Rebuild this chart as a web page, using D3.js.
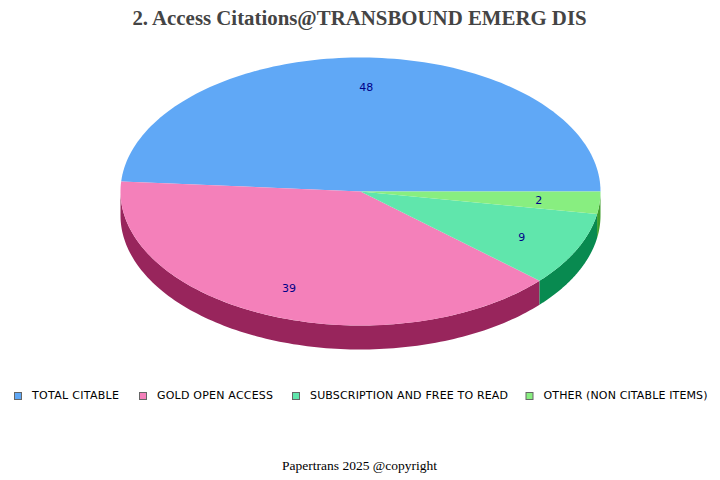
<!DOCTYPE html>
<html>
<head>
<meta charset="utf-8">
<script src="https://cdn.jsdelivr.net/npm/d3@7"></script>
<style>
  html, body { margin: 0; padding: 0; background: #fff; }
  svg { display: block; }
</style>
</head>
<body>
<svg id="chart" width="720" height="480"></svg>
<script>
const categories = ["TOTAL CITABLE", "GOLD OPEN ACCESS", "SUBSCRIPTION AND FREE TO READ", "OTHER (NON CITABLE ITEMS)"];
const labels = [48, 39, 9, 2];
const shares = [48.8, 39.6, 8.9, 2.7];
const topColors = ["#60a8f6", "#f480ba", "#60e6ac", "#88ee80"];
const wallColors = ["#2a6fb8", "#98255c", "#088a50", "#3f9e2c"];

const cx = 360.5, cy = 191.5, rx = 240, ry = 134, depth = 24;
const legendLeft = [14, 139, 292, 525.5];
const legendTextWidth = [87, 116, 198, 164];

const svg = d3.select("#chart");

// unit circle -> ellipse on screen
const xScale = d3.scaleLinear().domain([-1, 1]).range([cx - rx, cx + rx]);
const yScale = d3.scaleLinear().domain([-1, 1]).range([cy + ry, cy - ry]);

// slices run counter clockwise from 3 o'clock
const pie = d3.pie().sort(null).value(d => d).startAngle(0).endAngle(2 * Math.PI);
const slices = pie(shares);

const rimPoint = (a, k = 1) => [xScale(k * Math.cos(a)), yScale(k * Math.sin(a))];

const sector = s => {
  const path = d3.path();
  path.moveTo(cx, cy);
  d3.range(0, 121).forEach(i => {
    const p = rimPoint(s.startAngle + (s.endAngle - s.startAngle) * i / 120);
    path.lineTo(p[0], p[1]);
  });
  path.closePath();
  return path.toString();
};

// side wall: only the lower half of the ellipse is visible
const wall = s => {
  const a0 = Math.max(s.startAngle, Math.PI);
  const a1 = s.endAngle;
  if (a1 <= a0) return null;
  const angles = d3.range(0, 121).map(i => a0 + (a1 - a0) * i / 120);
  const path = d3.path();
  angles.forEach((a, i) => {
    const p = rimPoint(a);
    if (i === 0) path.moveTo(p[0], p[1]); else path.lineTo(p[0], p[1]);
  });
  angles.slice().reverse().forEach(a => {
    const p = rimPoint(a);
    path.lineTo(p[0], p[1] + depth);
  });
  path.closePath();
  return path.toString();
};

svg.append("g").selectAll("path")
  .data(slices.filter(s => s.endAngle > Math.PI))
  .enter().append("path")
  .attr("d", wall)
  .attr("fill", s => wallColors[s.index]);

svg.append("g").selectAll("path")
  .data(slices)
  .enter().append("path")
  .attr("d", sector)
  .attr("fill", s => topColors[s.index]);

svg.append("g").selectAll("text")
  .data(slices)
  .enter().append("text")
  .attr("x", s => rimPoint((s.startAngle + s.endAngle) / 2, 0.75)[0] - 1)
  .attr("y", s => rimPoint((s.startAngle + s.endAngle) / 2, 0.78)[1] + 4)
  .attr("text-anchor", "middle")
  .attr("font-family", "DejaVu Sans")
  .attr("font-size", 11)
  .attr("fill", "#000088")
  .text((s, i) => labels[i]);

// title and footer
svg.append("text")
  .attr("x", 359.5).attr("y", 25)
  .attr("text-anchor", "middle")
  .attr("font-family", "Liberation Serif")
  .attr("font-weight", "bold")
  .attr("font-size", 20.85)
  .attr("fill", "#444444")
  .text("2. Access Citations@TRANSBOUND EMERG DIS");

svg.append("text")
  .attr("x", 359.5).attr("y", 470)
  .attr("text-anchor", "middle")
  .attr("font-family", "Liberation Serif")
  .attr("font-size", 13.5)
  .attr("fill", "#000")
  .text("Papertrans 2025 @copyright");

// legend
const legend = svg.append("g").selectAll("g")
  .data(categories)
  .enter().append("g")
  .attr("transform", (d, i) => `translate(${legendLeft[i]},0)`);

legend.append("rect")
  .attr("x", 0.5).attr("y", 392.5)
  .attr("width", 7).attr("height", 7)
  .attr("fill", (d, i) => topColors[i])
  .attr("stroke", "#666");

legend.append("text")
  .attr("x", 18).attr("y", 399)
  .attr("font-family", "DejaVu Sans")
  .attr("font-size", 11)
  .attr("textLength", (d, i) => legendTextWidth[i])
  .attr("lengthAdjust", "spacing")
  .attr("fill", "#000")
  .text(d => d);
</script>
</body>
</html>
